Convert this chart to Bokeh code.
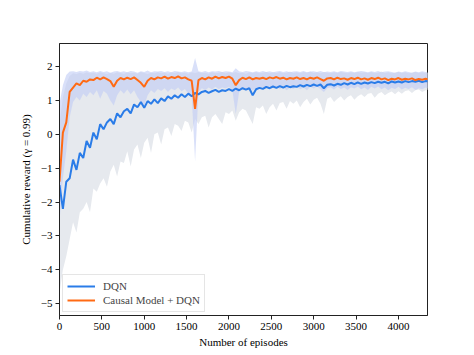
from bokeh.plotting import figure
from bokeh.models import FixedTicker, CustomJSTickFormatter, Legend, LegendItem, Range1d, ColumnDataSource
from bokeh.embed import file_html
from bokeh.resources import INLINE

# episode grid (every 40 episodes)
episodes = list(range(0, 4400, 40))

dqn_mean = [
    -1.5, -2.2, -1.4, -1.3, -0.75, -1.05, -0.55, -0.7, -0.2, -0.4,
    0.05, -0.15, 0.3, 0.15, 0.35, 0.45, 0.3, 0.62, 0.5, 0.68,
    0.75, 0.62, 0.88, 0.8, 0.95, 0.78, 0.98, 0.9, 1.03, 0.92,
    1.06, 0.98, 1.12, 1.05, 1.15, 1.08, 1.18, 1.1, 1.2, 1.12,
    1.22, 1.18, 1.25, 1.28, 1.22, 1.27, 1.31, 1.25, 1.3, 1.28,
    1.33, 1.28, 1.35, 1.3, 1.36, 1.32, 1.36, 1.15, 1.33, 1.37,
    1.34, 1.4, 1.36, 1.41, 1.37, 1.42, 1.38, 1.43, 1.39, 1.42,
    1.4, 1.45, 1.41, 1.46, 1.42, 1.47, 1.43, 1.47, 1.36, 1.46,
    1.48, 1.44, 1.49, 1.46, 1.51, 1.47, 1.52, 1.48, 1.53, 1.49,
    1.53, 1.5, 1.54, 1.51, 1.55, 1.52, 1.55, 1.5, 1.56, 1.53,
    1.56, 1.53, 1.57, 1.54, 1.57, 1.55, 1.58, 1.54, 1.57, 1.56,
]
dqn_lo = [
    -4.7, -4.0, -3.6, -3.1, -2.6, -2.9, -2.3, -2.2, -2.0, -2.3,
    -1.6, -1.7, -1.45, -1.3, -1.55, -1.1, -0.9, -1.25, -0.8, -0.85,
    -0.5, -0.95, -0.45, -0.3, -0.7, -0.25, -0.1, -0.55, 0.0, 0.05,
    -0.3, 0.15, 0.2, -0.05, 0.3, 0.25, 0.1, 0.4, 0.35, 0.05,
    0.45, 0.3, 0.5, 0.55, 0.2, 0.5, 0.6, 0.45, 0.3, 0.65,
    0.6, 0.7, 0.4, 0.65, 0.75, 0.7, 0.5, 0.3, 0.8, 0.75,
    0.85, 0.6, 0.8, 0.9, 0.7, 0.92, 0.95, 0.75, 0.98, 0.9,
    1.0, 0.8, 0.95, 1.05, 0.88, 1.02, 1.08, 0.9, 0.6, 1.05,
    1.1, 0.95, 1.05, 1.12, 1.0, 1.1, 1.15, 1.02, 1.12, 1.18,
    1.1, 1.2, 1.22, 1.08, 1.2, 1.25, 1.15, 1.22, 1.26, 1.18,
    1.27, 1.2, 1.28, 1.3, 1.22, 1.3, 1.32, 1.25, 1.3, 1.32,
]
dqn_hi = [
    0.3, 1.1, 1.5, 1.72, 1.8, 1.78, 1.82, 1.79, 1.83, 1.8,
    1.82, 1.79, 1.83, 1.8, 1.78, 1.82, 1.79, 1.83, 1.81, 1.78,
    1.83, 1.8, 1.82, 1.79, 1.84, 1.81, 1.78, 1.82, 1.8, 1.83,
    1.8, 1.82, 1.79, 1.83, 1.81, 1.84, 1.8, 1.82, 1.79, 1.83,
    1.81, 1.84, 1.8, 1.82, 1.79, 1.83, 1.8, 1.82, 1.84, 1.8,
    1.83, 1.81, 1.84, 1.8, 1.82, 1.79, 1.83, 1.81, 1.84, 1.8,
    1.82, 1.84, 1.8, 1.83, 1.81, 1.84, 1.8, 1.82, 1.85, 1.81,
    1.83, 1.8, 1.84, 1.82, 1.85, 1.81, 1.83, 1.8, 1.84, 1.82,
    1.8, 1.83, 1.81, 1.84, 1.82, 1.8, 1.83, 1.81, 1.84, 1.82,
    1.83, 1.81, 1.84, 1.8, 1.82, 1.85, 1.81, 1.83, 1.8, 1.82,
    1.84, 1.81, 1.83, 1.8, 1.82, 1.84, 1.81, 1.83, 1.8, 1.82,
]
cm_mean = [
    -1.4, 0.05, 0.35, 1.25, 1.38, 1.5, 1.45, 1.58, 1.55, 1.62,
    1.6, 1.67, 1.62, 1.68, 1.63, 1.57, 1.4, 1.58, 1.66, 1.62,
    1.67, 1.63, 1.68, 1.6, 1.52, 1.4, 1.58, 1.66, 1.62, 1.68,
    1.65, 1.7, 1.64, 1.69, 1.66, 1.71, 1.65, 1.68, 1.62, 1.58,
    0.75, 1.6, 1.66, 1.62, 1.68, 1.64, 1.7, 1.65, 1.69, 1.66,
    1.7, 1.64, 1.45, 1.6, 1.67, 1.63, 1.68, 1.62, 1.66, 1.64,
    1.67, 1.63, 1.68, 1.65, 1.69, 1.64, 1.67, 1.62, 1.66, 1.64,
    1.68, 1.63, 1.66, 1.62, 1.67, 1.64, 1.68, 1.63, 1.58, 1.65,
    1.66, 1.62, 1.67, 1.63, 1.65, 1.61, 1.66, 1.63, 1.67, 1.62,
    1.65, 1.61, 1.66, 1.63, 1.67, 1.62, 1.65, 1.6, 1.64, 1.62,
    1.66, 1.61, 1.64, 1.62, 1.65, 1.6, 1.63, 1.61, 1.64, 1.62,
]
cm_lo = [
    -2.6, -1.3, -0.5, 0.5, 0.95, 1.1, 1.0, 1.2, 1.1, 1.25,
    1.15, 1.3, 1.05, 1.28, 1.2, 1.0, 0.85, 1.15, 1.3, 1.2,
    1.32, 1.18, 1.3, 1.1, 0.95, 0.85, 1.15, 1.3, 1.22, 1.34,
    1.28, 1.36, 1.25, 1.35, 1.3, 1.38, 1.27, 1.34, 1.2, 1.15,
    -0.8, 1.25, 1.36, 1.3, 1.38, 1.32, 1.4, 1.33, 1.38, 1.35,
    1.4, 1.3, 0.6, 1.25, 1.37, 1.32, 1.39, 1.3, 1.36, 1.33,
    1.4, 1.34, 1.41, 1.36, 1.42, 1.33, 1.39, 1.3, 1.37, 1.34,
    1.41, 1.33, 1.38, 1.3, 1.4, 1.35, 1.41, 1.33, 1.25, 1.36,
    1.39, 1.32, 1.4, 1.34, 1.38, 1.31, 1.39, 1.35, 1.41, 1.33,
    1.38, 1.31, 1.4, 1.35, 1.41, 1.33, 1.38, 1.3, 1.37, 1.34,
    1.4, 1.32, 1.37, 1.34, 1.39, 1.31, 1.36, 1.33, 1.38, 1.35,
]
cm_hi = [
    0.9, 1.45, 1.75, 1.85, 1.86, 1.84, 1.87, 1.85, 1.88, 1.84,
    1.86, 1.83, 1.87, 1.84, 1.86, 1.82, 1.85, 1.87, 1.84, 1.86,
    1.83, 1.87, 1.85, 1.82, 1.86, 1.84, 1.88, 1.83, 1.86, 1.85,
    1.87, 1.84, 1.86, 1.83, 1.87, 1.85, 1.84, 1.86, 1.83, 1.85,
    2.25, 1.86, 1.84, 1.87, 1.83, 1.86, 1.85, 1.87, 1.84, 1.86,
    1.85, 1.83, 1.95, 1.86, 1.84, 1.87, 1.85, 1.83, 1.86, 1.84,
    1.87, 1.84, 1.86, 1.83, 1.85, 1.87, 1.84, 1.86, 1.83, 1.85,
    1.86, 1.84, 1.87, 1.83, 1.85, 1.86, 1.84, 1.87, 1.83, 1.85,
    1.84, 1.86, 1.83, 1.87, 1.85, 1.84, 1.86, 1.83, 1.85, 1.87,
    1.85, 1.83, 1.86, 1.84, 1.87, 1.83, 1.85, 1.86, 1.84, 1.82,
    1.85, 1.83, 1.86, 1.84, 1.82, 1.85, 1.83, 1.86, 1.84, 1.83,
]

x_ticks = [0, 500, 1000, 1500, 2000, 2500, 3000, 3500, 4000]
y_ticks = [-5, -4, -3, -2, -1, 0, 1, 2]
labels = ["DQN", "Causal Model + DQN"]

FONT = "Liberation Serif"

p = figure(width=474, height=355, output_backend="svg", toolbar_location=None,
           x_range=Range1d(0, 4343), y_range=Range1d(-5.35, 2.68),
           min_border_left=59, min_border_right=47, min_border_top=43, min_border_bottom=40)
p.background_fill_color = "white"
p.border_fill_color = "white"
p.grid.visible = False
p.outline_line_color = "#222222"
p.outline_line_width = 1

src = ColumnDataSource(dict(x=episodes, dm=dqn_mean, dl=dqn_lo, dh=dqn_hi,
                            cm=cm_mean, cl=cm_lo, ch=cm_hi))

p.varea(x="x", y1="dl", y2="dh", source=src, fill_color="#e6e9ee", fill_alpha=1.0)
p.varea(x="x", y1="cl", y2="ch", source=src, fill_color="#c0cbf5", fill_alpha=0.6)
r1 = p.line(x="x", y="dm", source=src, line_color="#2a7ce8", line_width=2)
r2 = p.line(x="x", y="cm", source=src, line_color="#ff6a14", line_width=2)

for ax in (p.xaxis[0], p.yaxis[0]):
    ax.major_label_text_font = FONT
    ax.major_label_text_font_size = "11px"
    ax.major_label_text_color = "black"
    ax.axis_label_text_font = FONT
    ax.axis_label_text_font_size = "11px"
    ax.axis_label_text_font_style = "normal"
    ax.axis_label_text_color = "black"
    ax.major_tick_in = 0
    ax.major_tick_out = 4
    ax.minor_tick_line_color = None
    ax.axis_line_color = "#222222"
    ax.major_tick_line_color = "#222222"
    ax.major_label_standoff = 3

p.xaxis.ticker = FixedTicker(ticks=x_ticks)
p.yaxis.ticker = FixedTicker(ticks=y_ticks)
p.yaxis.formatter = CustomJSTickFormatter(code="return tick < 0 ? '\u2212' + Math.abs(tick) : String(tick);")
p.xaxis.axis_label = "Number of episodes"
p.yaxis.axis_label = "Cumulative reward (γ = 0.99)"
p.xaxis.axis_label_standoff = 3
p.yaxis.axis_label_standoff = 6

legend = Legend(items=[LegendItem(label=labels[0], renderers=[r1]),
                       LegendItem(label=labels[1], renderers=[r2])],
                location="bottom_left")
legend.label_text_font = FONT
legend.label_text_font_size = "11px"
legend.label_standoff = 8
legend.glyph_width = 28
legend.glyph_height = 14
legend.spacing = 0
legend.padding = 4
legend.margin = 3
legend.border_line_color = "#cccccc"
legend.background_fill_alpha = 0.85
p.add_layout(legend)

open("out.html", "w").write(file_html(p, INLINE))
